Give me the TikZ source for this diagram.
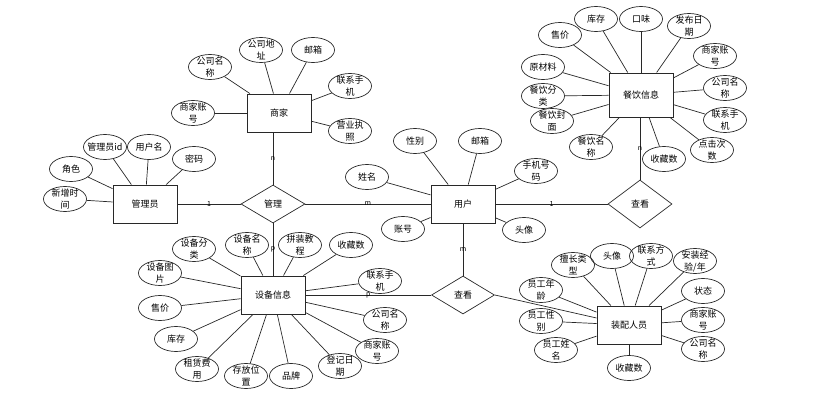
\documentclass[tikz,border=0pt]{standalone}
\usepackage{fontspec}
\setmainfont{Noto Sans CJK SC}
\usepackage{tikz}
\usetikzlibrary{shapes.geometric}
\definecolor{erline}{RGB}{40,40,40}
\newcommand{\attrtxt}[1]{\raisebox{-3pt}[0pt][0pt]{\makebox[0pt]{\begin{tabular}{@{}c@{}}#1\end{tabular}}}}

\begin{document}
\begin{tikzpicture}[x=1pt, y=-1pt,
    every node/.style={font=\fontsize{9}{12}\selectfont},
    entity/.style={draw=erline, line width=0.9pt, minimum width=64pt, minimum height=38pt, inner sep=0pt},
    rel/.style={diamond, draw=erline, line width=0.7pt, minimum width=64pt, minimum height=38pt, inner sep=0pt},
    attr/.style={ellipse, draw=erline, line width=0.7pt, minimum width=43pt, minimum height=25pt, inner sep=0pt},
    conn/.style={draw=erline, line width=0.7pt},
    card/.style={font=\fontsize{7}{7}\selectfont, inner sep=0pt}]
\useasboundingbox (0,0) rectangle (831,404);

\node[entity] (merchant) at (279,113) {商家};
\node[entity] (admin) at (145,204) {管理员};
\node[entity] (user) at (463,204) {用户};
\node[entity, minimum height=44pt] (food) at (641,95) {餐饮信息};
\node[entity] (device) at (273,295) {设备信息};
\node[entity] (fitter) at (629,325) {装配人员};

\node[rel] (mgmt) at (273,204) {管理};
\node[rel, minimum height=48pt] (chk1) at (640,204) {查看};
\node[rel, minimum width=63pt] (chk2) at (463,295) {查看};

\foreach \i/\x/\y/\t in {1/210/67/{公司名\\称}, 2/261/50/{公司地\\址}, 3/313/50/{邮箱},
    4/350/86/{联系手\\机}, 5/350/131/{营业执\\照}, 6/193/113/{商家账\\号}} {
    \node[attr] (ma\i) at (\x,\y) {\attrtxt{\t}};
    \draw[conn] (ma\i) -- (merchant);
}
\foreach \i/\x/\y/\t in {1/71/169/{角色}, 2/105/147/{管理员id}, 3/149/147/{用户名},
    4/194/159/{密码}, 5/65/199/{新增时\\间}} {
    \node[attr] (aa\i) at (\x,\y) {\attrtxt{\t}};
    \draw[conn] (aa\i) -- (admin);
}
\foreach \i/\x/\y/\t in {1/415/141/{性别}, 2/480/141/{邮箱}, 3/367/177/{姓名},
    4/536/171/{手机号\\码}, 5/403/229/{账号}, 6/524/230/{头像}} {
    \node[attr] (ua\i) at (\x,\y) {\attrtxt{\t}};
    \draw[conn] (ua\i) -- (user);
}
\foreach \i/\x/\y/\t in {1/596/19/{库存}, 2/641/19/{口味}, 3/689/26/{发布日\\期},
    4/560/35/{售价}, 5/715/56/{商家账\\号}, 6/543/67/{原材料}, 7/725/88/{公司名\\称},
    8/543/96/{餐饮分\\类}, 9/552/121/{餐饮封\\面}, 10/725/120/{联系手\\机},
    11/591/147/{餐饮名\\称}, 12/712/150/{点击次\\数}, 13/664/159/{收藏数}} {
    \node[attr] (fa\i) at (\x,\y) {\attrtxt{\t}};
    \draw[conn] (fa\i) -- (food);
}
\foreach \i/\x/\y/\t in {1/194/249/{设备分\\类}, 2/247/245/{设备名\\称}, 3/300/245/{拼装教\\程},
    4/351/245/{收藏数}, 5/160/273/{设备图\\片}, 6/380/281/{联系手\\机}, 7/160/308/{售价},
    8/385/320/{公司名\\称}, 9/176/339/{库存}, 10/377/351/{商家账\\号}, 11/197/369/{租赁费\\用},
    12/246/376/{存放位\\置}, 13/291/376/{品牌}, 14/340/366/{登记日\\期}} {
    \node[attr] (da\i) at (\x,\y) {\attrtxt{\t}};
    \draw[conn] (da\i) -- (device);
}
\foreach \i/\x/\y/\t in {1/573/265/{擅长类\\型}, 2/612/256/{头像}, 3/651/256/{联系方\\式},
    4/695/261/{安装经\\验/年}, 5/541/290/{员工年\\龄}, 6/703/291/{状态}, 7/541/321/{员工性\\别},
    8/703/320/{商家账\\号}, 9/556/350/{员工姓\\名}, 10/703/349/{公司名\\称}, 11/629/368/{收藏数}} {
    \node[attr] (pa\i) at (\x,\y) {\attrtxt{\t}};
    \draw[conn] (pa\i) -- (fitter);
}

\draw[conn] (admin) -- node[card] {1} (mgmt);
\draw[conn] (mgmt) -- node[card] {m} (user);
\draw[conn] (mgmt.north) -- node[card] {n} (mgmt.north |- merchant.south);
\draw[conn] (mgmt) -- node[card] {p} (device);
\draw[conn] (user) -- node[card] {1} (chk1);
\draw[conn] (chk1.north) -- node[card] {n} (chk1.north |- food.south);
\draw[conn] (user) -- node[card] {m} (chk2);
\draw[conn] (device) -- node[card] {p} (chk2);
\draw[conn] (chk2.east) -- ([yshift=7pt]fitter.west);
\end{tikzpicture}
\end{document}
